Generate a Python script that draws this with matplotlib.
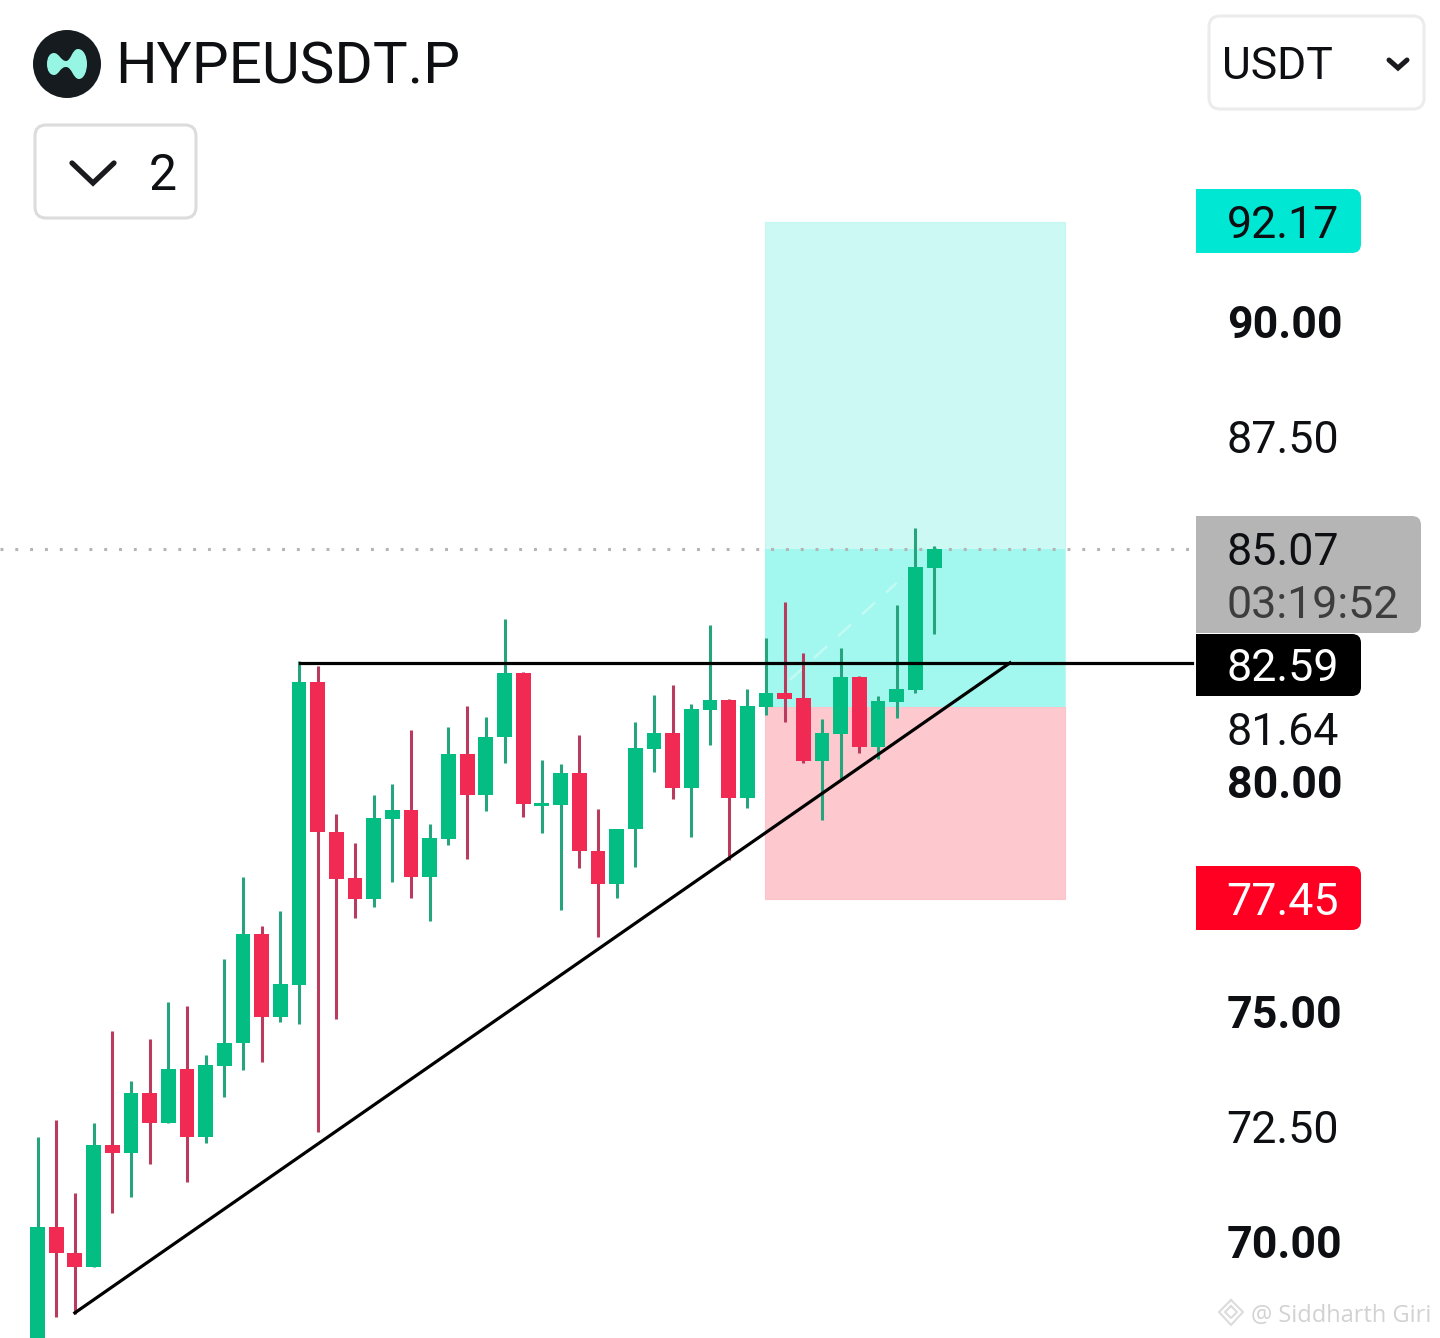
import matplotlib
matplotlib.use("Agg")
import matplotlib.pyplot as plt
from matplotlib.patches import Circle, FancyBboxPatch, PathPatch, Rectangle
from matplotlib.path import Path

# Candle data
opens = [67.43, 70.33, 69.77, 69.46, 72.11, 71.94, 73.25, 72.59, 73.76, 72.29,
         73.83, 74.32, 76.70, 74.90, 75.59, 82.18, 78.91, 77.92, 77.46, 79.20,
         79.39, 77.94, 78.77, 80.61, 79.72, 80.97, 82.37, 79.48, 79.51, 80.20,
         78.51, 77.78, 78.97, 80.72, 81.07, 79.88, 81.57, 81.78, 79.66, 81.64,
         81.93, 81.83, 80.46, 81.05, 82.28, 80.77, 81.75, 82.01, 84.66]
highs = [72.29, 72.65, 71.07, 72.59, 74.59, 73.50, 74.41, 75.21, 75.13, 74.07,
         76.15, 77.94, 76.87, 77.20, 82.62, 82.53, 79.30, 78.68, 79.72, 79.96,
         81.13, 79.09, 81.20, 81.65, 81.42, 83.54, 82.39, 80.48, 80.39, 81.02,
         79.41, 78.98, 81.30, 81.89, 82.11, 81.69, 83.41, 81.80, 82.02, 83.13,
         83.91, 82.80, 81.38, 82.91, 82.30, 81.88, 83.85, 85.52, 85.13]
lows = [67.20, 68.38, 68.43, 69.45, 70.62, 70.98, 71.69, 72.59, 71.31, 72.15,
        73.16, 73.74, 73.92, 74.79, 74.73, 72.40, 74.84, 77.05, 77.29, 77.83,
        77.48, 76.98, 78.63, 78.33, 79.38, 80.42, 79.25, 78.90, 77.22, 78.12,
        76.64, 77.48, 78.15, 80.22, 79.64, 78.81, 80.81, 78.30, 79.44, 81.46,
        81.31, 80.41, 79.18, 80.04, 80.62, 80.49, 81.40, 81.94, 83.21]
closes = [70.33, 69.76, 69.46, 72.11, 71.94, 73.25, 72.59, 73.76, 72.29, 73.85,
          74.33, 76.70, 74.90, 75.61, 82.18, 78.91, 77.90, 77.46, 79.22, 79.39,
          77.94, 78.78, 80.61, 79.72, 80.98, 82.37, 79.52, 79.55, 80.20, 78.51,
          77.78, 78.98, 80.74, 81.07, 79.88, 81.59, 81.78, 79.66, 81.65, 81.93,
          81.81, 80.46, 81.07, 82.28, 80.77, 81.76, 82.02, 84.67, 85.07]

# Price levels of the long position tool
target_price = 92.17
last_price = 85.07
entry_price = 81.64
stop_price = 77.45
level_price = 82.59
position_span = [38.95, 55.03]

# Drawn lines: (candle index, price)
level_span = [14.03, 61.8]
trend_start = [2.0, 68.46]
trend_end = [52.06, 82.59]
projection_start = [40.28, 82.22]
projection_end = [46.0, 84.33]

# Text
symbol = "HYPEUSDT.P"
quote = "USDT"
interval = "2"
countdown = "03:19:52"
watermark = "@ Siddharth Giri"
plain_ticks = ["87.50", "81.64", "72.50"]
bold_ticks = ["90.00", "80.00", "75.00", "70.00"]

GREEN = "#03bd83"
RED = "#f02a52"
GREEN_WICK = "#26a47e"
RED_WICK = "#b93c5e"
INK = "#0e0f12"
FONT = "Roboto"


def draw_chart(ax):
    """Position tool, lines and candles, in index/price coordinates."""
    x_min = -37.5 / 18.68
    ax.set_xlim(x_min, (1440 - 37.5) / 18.68)
    ax.set_ylim(97 - 1338 / 46, 97)
    ax.axis("off")

    left, right = position_span
    width = right - left
    ax.add_patch(Rectangle((left, entry_price), width, target_price - entry_price,
                           facecolor="#ccf9f3", edgecolor="#c4f7f1", lw=0.8, zorder=1))
    ax.add_patch(Rectangle((left, entry_price), width, last_price - entry_price,
                           facecolor="#a2f8ee", edgecolor="none", zorder=1.1))
    ax.add_patch(Rectangle((left, stop_price), width, entry_price - stop_price,
                           facecolor="#fdc9cf", edgecolor="#fcc4ca", lw=0.8, zorder=1))

    ax.plot([x_min, level_span[1]], [last_price, last_price], color="#b4b4b4", lw=2.2,
            linestyle=(0, (0.95, 3.9)), zorder=1.5)
    ax.plot([projection_start[0], projection_end[0]], [projection_start[1], projection_end[1]],
            color="white", alpha=0.35, lw=1.8, linestyle=(0, (7, 6)), zorder=1.6)

    for i in range(len(opens)):
        up = closes[i] >= opens[i]
        ax.vlines(i, lows[i], highs[i], color=GREEN_WICK if up else RED_WICK, lw=2.2, zorder=2)
        ax.bar(i, abs(closes[i] - opens[i]), bottom=min(opens[i], closes[i]), width=0.79,
               color=GREEN if up else RED, linewidth=0, zorder=3)

    ax.plot(level_span, [level_price, level_price], color="black", lw=2.3, zorder=4)
    ax.plot([trend_start[0], trend_end[0]], [trend_start[1], trend_end[1]],
            color="black", lw=2.3, zorder=4)


def price_tag(ax, x0, y0, x1, y1, color, r=9):
    """Tag with rounded corners on the right side only."""
    verts = [(x0, y0), (x1 - r, y0), (x1, y0), (x1, y0 + r), (x1, y1 - r),
             (x1, y1), (x1 - r, y1), (x0, y1), (x0, y0)]
    codes = [Path.MOVETO, Path.LINETO, Path.CURVE3, Path.CURVE3, Path.LINETO,
             Path.CURVE3, Path.CURVE3, Path.LINETO, Path.CLOSEPOLY]
    ax.add_patch(PathPatch(Path(verts, codes), facecolor=color, edgecolor="none"))


def button(ax, x0, y0, x1, y1, color):
    ax.add_patch(FancyBboxPatch((x0 + 11, y0 + 11), x1 - x0 - 22, y1 - y0 - 22,
                                boxstyle="round,pad=11,rounding_size=11",
                                facecolor="white", edgecolor=color, lw=2.2))


def draw_logo(ax):
    ax.add_patch(Circle((67, 64), 34, facecolor="#151b1f", edgecolor="none"))
    verts = [(47, 64),
             (47, 57), (50, 53), (54, 53),
             (59, 53), (61, 61), (66, 61),
             (71, 61), (72, 49), (78, 49),
             (84, 49), (87, 57), (87, 64),
             (87, 71), (84, 79), (79, 79),
             (73, 79), (72, 67), (66, 67),
             (60, 67), (59, 75), (54, 75),
             (50, 75), (47, 71), (47, 64),
             (47, 64)]
    codes = [Path.MOVETO] + [Path.CURVE4] * 24 + [Path.CLOSEPOLY]
    ax.add_patch(PathPatch(Path(verts, codes), facecolor="#97f5e4", edgecolor="none"))


def draw_watermark(ax):
    grey = "#dcdcdc"
    ax.plot([1231, 1243, 1231, 1219, 1231], [1300, 1312, 1325, 1312, 1300], color=grey, lw=1.5)
    ax.plot([1231, 1237, 1231, 1225, 1231], [1306, 1312, 1318, 1312, 1306], color=grey, lw=1.5)
    ax.text(1251, 1322, watermark, family="Open Sans", fontsize=17, color="#d2d2d2",
            ha="left", va="baseline")


def draw_interface(ax):
    """Header, buttons and price axis, in pixel coordinates."""
    ax.set_xlim(0, 1440)
    ax.set_ylim(1338, 0)
    ax.axis("off")
    ax.patch.set_alpha(0)

    draw_logo(ax)
    ax.text(115.5, 84, symbol, family=FONT, fontsize=42, color=INK, va="baseline")

    button(ax, 35, 125, 196, 218, "#dcdcdc")
    ax.plot([72, 93, 114], [163, 183, 163], color="#1b1b1f", lw=3.8, solid_capstyle="round",
            solid_joinstyle="miter")
    ax.text(149, 190, interval, family=FONT, fontsize=36, color=INK, va="baseline")

    button(ax, 1209, 16, 1424, 109, "#ececec")
    ax.text(1222, 79, quote, family=FONT, fontsize=32, color=INK, va="baseline")
    ax.plot([1389, 1398, 1407], [60, 68, 60], color="#1b1b1f", lw=3.6, solid_capstyle="round",
            solid_joinstyle="miter")

    price_tag(ax, 1196, 189, 1361, 253, "#00e7d3")
    price_tag(ax, 1196, 516, 1421, 633, "#b5b5b5")
    price_tag(ax, 1196, 634, 1361, 696, "black")
    price_tag(ax, 1196, 866, 1361, 930, "#ff0022")

    tags = [(f"{target_price:.2f}", 238, INK), (f"{last_price:.2f}", 565, INK),
            (countdown, 618, "#3d3d3d"), (f"{level_price:.2f}", 681, "white"),
            (f"{stop_price:.2f}", 915, "white")]
    for label, y, color in tags:
        ax.text(1226.5, y, label, family=FONT, fontsize=32.2, color=color, va="baseline")

    plain_y = [453, 745, 1143]
    for label, y in zip(plain_ticks, plain_y):
        ax.text(1226.5, y, label, family=FONT, fontsize=32.2, color=INK, va="baseline")

    bold_y = [338, 798, 1028, 1258]
    for label, y in zip(bold_ticks, bold_y):
        ax.text(1227, y, label, family=FONT, fontsize=32.2, fontweight="bold", color=INK,
                va="baseline")

    draw_watermark(ax)


def main():
    fig = plt.figure(figsize=(14.4, 13.38), dpi=100, facecolor="white")
    chart = fig.add_axes([0, 0, 1, 1])
    draw_chart(chart)
    overlay = fig.add_axes([0, 0, 1, 1])
    draw_interface(overlay)
    fig.savefig("out.png", dpi=100)
    plt.close(fig)


if __name__ == "__main__":
    main()
